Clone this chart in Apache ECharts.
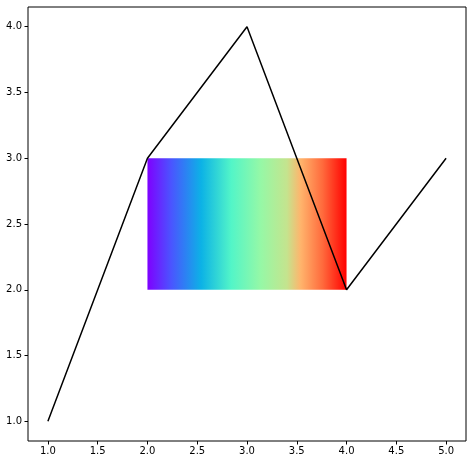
<!DOCTYPE html>
<html><head><meta charset="utf-8">
<script src="https://cdn.jsdelivr.net/npm/echarts@6/dist/echarts.min.js"></script>
<style>html,body{margin:0;padding:0;background:#fff}#c{width:474px;height:464px}</style>
</head><body><div id="c"></div>
<script>
const lineX = [1, 2, 3, 4, 5];
const lineY = [1, 3, 4, 2, 3];
const rectBox = [2, 2, 4, 3]; // x0, y0, x1, y1
const xTicks = [1.0, 1.5, 2.0, 2.5, 3.0, 3.5, 4.0, 4.5, 5.0];
const yTicks = [1.0, 1.5, 2.0, 2.5, 3.0, 3.5, 4.0];
const gradientStops = [
  [0.00, '#7f00ff'],
  [0.12, '#4a55ff'],
  [0.27, '#0cb2e6'],
  [0.42, '#52f5c8'],
  [0.57, '#96f8a6'],
  [0.70, '#c4e48e'],
  [0.77, '#ffb46c'],
  [0.88, '#ff6a3c'],
  [1.00, '#ff0000']
];

const chart = echarts.init(document.getElementById('c'));
const font = {fontFamily: 'DejaVu Sans', fontSize: 10, color: '#000'};
chart.setOption({
  animation: false,
  grid: {left: 28, right: 8, top: 7, bottom: 23, show: true, borderColor: '#000', borderWidth: 1, containLabel: false},
  xAxis: {
    type: 'value', min: 0.8, max: 5.2,
    splitLine: {show: false},
    axisLine: {show: false},
    axisTick: {show: true, length: 3.5, lineStyle: {color: '#000'}, customValues: xTicks},
    axisLabel: Object.assign({show: true, margin: 5, customValues: xTicks, formatter: v => v.toFixed(1)}, font)
  },
  yAxis: {
    type: 'value', min: 0.85, max: 4.15,
    splitLine: {show: false},
    axisLine: {show: false},
    axisTick: {show: true, length: 3.5, lineStyle: {color: '#000'}, customValues: yTicks},
    axisLabel: Object.assign({show: true, margin: 6, customValues: yTicks, formatter: v => v.toFixed(1)}, font)
  },
  series: [
    {
      type: 'custom', z: 1,
      data: [rectBox],
      renderItem: function (params, api) {
        const p0 = api.coord([api.value(0), api.value(3)]);
        const p1 = api.coord([api.value(2), api.value(1)]);
        return {
          type: 'rect',
          shape: {x: p0[0], y: p0[1], width: p1[0] - p0[0], height: p1[1] - p0[1]},
          style: {
            fill: new echarts.graphic.LinearGradient(0, 0, 1, 0,
              gradientStops.map(s => ({offset: s[0], color: s[1]})))
          }
        };
      }
    },
    {
      type: 'line', z: 5,
      data: lineX.map((x, i) => [x, lineY[i]]),
      showSymbol: false, symbol: 'none',
      lineStyle: {color: '#000', width: 1.5}
    }
  ]
});
</script></body></html>
